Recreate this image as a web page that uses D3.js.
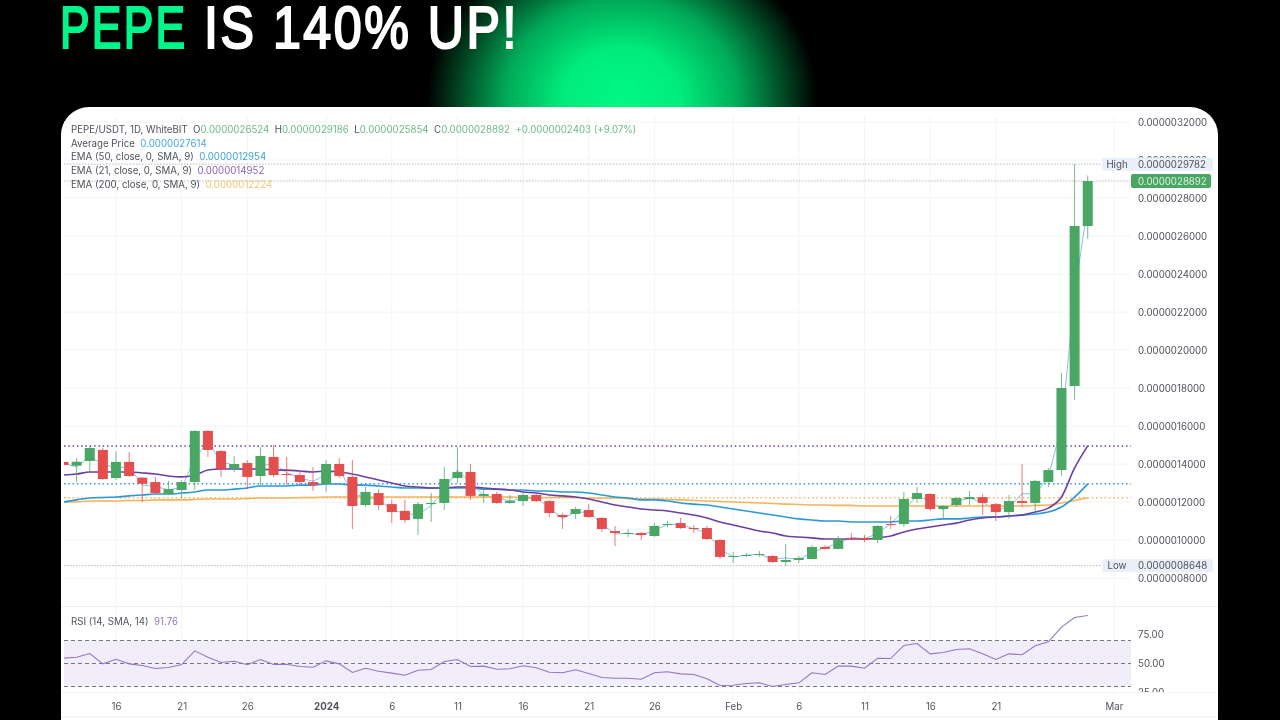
<!DOCTYPE html>
<html>
<head>
<meta charset="utf-8">
<script src="https://cdn.jsdelivr.net/npm/d3@7"></script>
<style>
  html, body { margin: 0; background: #000; overflow: hidden; }
  /* the reference is a soft screenshot */
  svg { display: block; filter: blur(0.4px); }
  text { font-family: Inter, "Noto Sans", sans-serif; }
</style>
</head>
<body>
<svg id="chart" width="1280" height="720"></svg>
<script>
// all prices are in units of 0.0000001, one entry per day from 12 Dec 2023
const PRICE_UNIT = 1e-7;
const FIRST_DAY = new Date(Date.UTC(2023, 11, 12));

const opens = [
  14.11,13.91,14.16,14.74,13.26,14.11,13.28,13.05,12.42,12.63,13.05,15.74,14.68,13.74,14.05,13.37,14.37,13.47,13.42,13.05,
  12.95,14.00,13.32,11.84,12.47,11.89,11.53,11.11,11.89,11.95,13.26,13.58,12.32,12.42,11.95,12.05,12.37,12.05,11.32,11.37,11.58,11.16,10.47,10.34,10.37,10.21,10.79,10.89,10.63,10.63,10.00,
  9.11,9.16,9.21,9.16,8.84,8.95,9.00,9.63,9.53,10.11,10.11,10.00,10.84,10.84,12.16,12.42,11.63,11.84,12.16,12.26,11.89,11.47,12.05,11.95,13.05,13.68,18.11,26.524
];
const highs = [
  14.15,14.32,14.95,14.84,14.68,14.63,13.32,13.32,13.11,13.16,15.79,15.79,14.74,14.42,14.21,14.89,15.00,14.37,13.60,13.84,
  14.21,14.32,14.21,12.79,12.68,12.11,12.11,12.00,12.47,13.84,14.89,14.00,12.74,12.55,12.37,12.47,12.47,12.11,11.42,11.74,11.89,11.21,10.74,10.58,10.42,10.89,11.00,11.16,10.79,10.74,10.05,
  9.37,9.32,9.42,9.21,9.79,9.16,9.74,9.74,10.21,10.37,10.26,10.79,11.26,12.53,12.79,12.47,11.84,12.26,12.58,12.42,11.95,12.37,14.00,13.16,13.79,18.79,29.782,29.186
];
const lows = [
  13.90,13.05,13.63,13.16,13.16,13.32,12.00,12.42,12.37,12.21,12.63,14.37,13.32,13.58,12.68,12.89,13.32,12.89,12.95,12.58,
  12.53,13.26,10.58,11.74,11.58,10.89,10.89,10.26,10.95,11.58,13.00,12.11,11.95,11.90,11.89,11.79,12.00,11.21,10.58,11.11,11.16,10.42,9.68,10.16,10.00,10.16,10.68,10.58,10.37,10.00,9.00,
  8.79,9.11,9.11,8.79,8.648,8.79,9.00,9.50,9.53,10.00,9.89,9.84,10.58,10.68,11.95,11.53,11.11,11.74,11.84,11.32,11.00,11.11,11.74,11.47,12.79,13.37,17.37,25.854
];
const closes = [
  13.95,14.12,14.84,13.21,14.11,13.37,12.96,12.47,12.68,13.05,15.74,14.74,13.74,14.00,13.32,14.42,13.42,13.42,13.05,12.89,
  14.00,13.37,11.79,12.53,11.84,11.47,11.05,11.89,11.95,13.21,13.58,12.32,12.42,11.95,12.05,12.37,12.05,11.42,11.21,11.63,11.21,10.58,10.37,10.37,10.26,10.74,10.84,10.63,10.58,10.05,9.11,
  9.16,9.21,9.26,8.84,8.95,9.05,9.63,9.53,10.05,10.05,10.00,10.74,10.79,12.16,12.47,11.63,11.79,12.21,12.26,11.95,11.47,12.05,11.95,13.11,13.68,18.00,26.524,28.892
];

const ema21 = [
  13.42,13.47,13.58,13.58,13.58,13.58,13.53,13.47,13.37,13.32,13.42,13.68,13.74,13.74,13.74,13.74,13.68,13.68,13.63,13.58,
  13.63,13.58,13.47,13.32,13.16,13.00,12.84,12.79,12.74,12.74,12.79,12.79,12.74,12.68,12.63,12.53,12.47,12.37,12.32,12.26,12.16,12.00,11.84,11.74,11.63,11.58,11.53,11.42,11.32,11.16,10.95,
  10.79,10.63,10.47,10.37,10.21,10.16,10.11,10.05,10.05,10.05,10.05,10.11,10.21,10.42,10.58,10.68,10.79,10.89,11.05,11.16,11.21,11.26,11.32,11.47,11.68,12.26,13.79,14.952
];
const ema50 = [
  12.00,12.11,12.21,12.24,12.26,12.32,12.37,12.42,12.42,12.47,12.53,12.63,12.63,12.68,12.74,12.84,12.84,12.84,12.89,12.89,
  12.95,12.95,12.89,12.89,12.84,12.79,12.74,12.74,12.74,12.74,12.74,12.74,12.68,12.68,12.63,12.63,12.58,12.58,12.53,12.53,12.47,12.37,12.26,12.21,12.11,12.11,12.05,11.95,11.89,11.84,11.74,
  11.63,11.53,11.42,11.32,11.21,11.11,11.05,11.00,11.00,10.95,10.95,10.95,10.95,11.00,11.00,11.05,11.11,11.11,11.16,11.21,11.21,11.26,11.32,11.37,11.47,11.74,12.26,12.954
];
const ema200 = [
  12.00,12.00,12.05,12.05,12.05,12.08,12.08,12.11,12.11,12.11,12.13,12.16,12.16,12.16,12.18,12.21,12.21,12.21,12.24,12.24,
  12.26,12.26,12.26,12.26,12.26,12.26,12.26,12.26,12.26,12.26,12.26,12.26,12.26,12.26,12.26,12.24,12.24,12.24,12.24,12.24,12.21,12.21,12.21,12.18,12.16,12.16,12.13,12.11,12.08,12.05,12.03,
  12.00,11.97,11.95,11.92,11.89,11.87,11.84,11.84,11.82,11.82,11.79,11.79,11.79,11.79,11.79,11.79,11.79,11.79,11.79,11.79,11.79,11.79,11.79,11.82,11.84,11.95,12.08,12.224
];
const rsi = [
  54.6,55.5,58.7,49.7,53.7,49.7,48.3,45.7,46.5,49.1,61.0,55.5,50.9,52.0,48.9,53.5,49.1,49.4,47.4,46.8,
  52.3,49.7,42.2,45.9,43.3,41.6,39.8,44.2,44.8,51.7,53.5,47.4,47.7,45.0,45.4,48.0,46.3,42.4,41.9,44.5,41.3,37.8,37.2,37.2,36.3,41.9,42.8,41.0,40.4,36.7,30.9,
  31.1,32.6,33.2,30.0,31.7,33.2,41.9,40.4,47.7,47.7,45.9,54.6,54.3,65.7,67.4,58.4,59.6,62.2,62.8,58.4,53.5,58.4,57.6,65.4,68.9,81.6,90.0,91.76
];

const priceTicks = [32, 30, 28, 26, 24, 22, 20, 18, 16, 14, 12, 10, 8];
const rsiTicks = [75, 50, 25];
const rsiBands = [70, 50, 30];
const timeTicks = [
  [2023, 11, 16, '16'], [2023, 11, 21, '21'], [2023, 11, 26, '26'], [2024, 0, 1, '2024'],
  [2024, 0, 6, '6'], [2024, 0, 11, '11'], [2024, 0, 16, '16'], [2024, 0, 21, '21'], [2024, 0, 26, '26'],
  [2024, 1, 1, 'Feb'], [2024, 1, 6, '6'], [2024, 1, 11, '11'], [2024, 1, 16, '16'], [2024, 1, 21, '21'],
  [2024, 2, 1, 'Mar']
];
const timeTickDates = timeTicks.map(t => new Date(Date.UTC(t[0], t[1], t[2])));
const timeTickLabels = timeTicks.map(t => t[3]);

const LAST_HIGH = 29.782;
const LAST_LOW = 8.648;
const LAST_CLOSE = 28.892;

const UP = '#4aa663';
const DOWN = '#e44f4e';
const BLUE = '#2b98d8';
const PURPLE = '#6b3fa6';
const ORANGE = '#f4b45a';
const AVG = '#86c3e2';
const TEXT = '#50535e';
const FONT_SIZE = '9.7px';

const plot = { left: 64, right: 1131, top: 108, bottom: 606, rsiTop: 607, rsiBottom: 692 };

const svg = d3.select('#chart');
const defs = svg.append('defs');

const days = closes.map((c, i) => d3.utcDay.offset(FIRST_DAY, i));
const fmtPrice = v => (v * PRICE_UNIT).toFixed(10);

const x = d3.scaleUtc()
  .domain([new Date(Date.UTC(2023, 11, 16)), new Date(Date.UTC(2024, 2, 1))])
  .range([116, 1114]);
const y = d3.scaleLinear().domain([8, 32]).range([578, 122]);
const yRsi = d3.scaleLinear().domain([30, 70]).range([686.5, 640.5]);

// glow behind the card
const glow = defs.append('radialGradient')
  .attr('id', 'glow')
  .attr('gradientUnits', 'userSpaceOnUse')
  .attr('cx', 0).attr('cy', 0).attr('r', 1)
  .attr('gradientTransform', 'translate(622,98) scale(195,165)');
[[0, '#00f883'], [0.3, '#00ec7c'], [0.6, '#00a957'], [0.85, '#00401f'], [1, '#000']].forEach(s => {
  glow.append('stop').attr('offset', s[0]).attr('stop-color', s[1]);
});
svg.append('rect').attr('width', 1280).attr('height', 720).attr('fill', '#000');
svg.append('rect').attr('x', 400).attr('y', 0).attr('width', 450).attr('height', 110).attr('fill', 'url(#glow)');

// title, squeezed sideways since no installed font is this narrow
function titleText(str, left, squeeze, color) {
  svg.append('text').attr('transform', `translate(${left},48) scale(${squeeze},1)`)
    .style('font-family', '"Liberation Sans", sans-serif')
    .style('font-size', '60px').style('font-weight', 400).style('letter-spacing', '3px')
    .attr('fill', color).attr('stroke', color).attr('stroke-width', 2.2).text(str);
}
titleText('PEPE', 60, 0.74, '#00f58a');
titleText('IS 140% UP!', 204, 0.837, '#fff');

// card
svg.append('rect').attr('x', 61).attr('y', 107).attr('width', 1157).attr('height', 640).attr('rx', 28).attr('fill', '#fff');

defs.append('clipPath').attr('id', 'mainClip').append('rect')
  .attr('x', plot.left).attr('y', plot.top).attr('width', plot.right - plot.left).attr('height', plot.bottom - plot.top);
defs.append('clipPath').attr('id', 'rsiClip').append('rect')
  .attr('x', plot.left).attr('y', plot.rsiTop).attr('width', plot.right - plot.left).attr('height', plot.rsiBottom - plot.rsiTop);

// grid
const grid = svg.append('g').attr('stroke', '#f3f4f6').attr('stroke-width', 1);
grid.selectAll('.v').data(timeTickDates).join('line').attr('class', 'v')
  .attr('x1', d => x(d)).attr('x2', d => x(d)).attr('y1', plot.top + 8).attr('y2', plot.rsiBottom);
grid.selectAll('.h').data(priceTicks).join('line').attr('class', 'h')
  .attr('x1', plot.left).attr('x2', plot.right).attr('y1', d => y(d)).attr('y2', d => y(d));
svg.append('line').attr('x1', 61).attr('x2', 1218).attr('y1', 606.5).attr('y2', 606.5).attr('stroke', '#eceef1');
svg.append('line').attr('x1', 61).attr('x2', 1218).attr('y1', 692.5).attr('y2', 692.5).attr('stroke', '#f3f4f6');
svg.append('line').attr('x1', 61).attr('x2', 1218).attr('y1', 717).attr('y2', 717).attr('stroke', '#eceef1');

const main = svg.append('g').attr('clip-path', 'url(#mainClip)');

// high, low, close and last EMA price lines
[LAST_HIGH, LAST_CLOSE, LAST_LOW].forEach(v => {
  main.append('line').attr('x1', plot.left).attr('x2', plot.right).attr('y1', y(v)).attr('y2', y(v))
    .attr('stroke', '#b5b8bd').attr('stroke-dasharray', '1.5,1.5');
});
[[ema21, PURPLE], [ema50, BLUE], [ema200, ORANGE]].forEach(d => {
  const last = d[0][d[0].length - 1];
  main.append('line').attr('x1', plot.left).attr('x2', plot.right).attr('y1', y(last)).attr('y2', y(last))
    .attr('stroke', d[1]).attr('stroke-width', 1.5).attr('stroke-dasharray', '1.5,2.8');
});

const priceLine = d3.line().x((d, i) => x(days[i])).y(d => y(d)).curve(d3.curveMonotoneX);

// the Average Price indicator is (O+H+L+C)/4 of each candle
const avgPrice = closes.map((c, i) => (opens[i] + highs[i] + lows[i] + c) / 4);
main.append('path').datum(avgPrice).attr('d', d3.line().x((d, i) => x(days[i])).y(d => y(d)))
  .attr('fill', 'none').attr('stroke', AVG).attr('stroke-width', 1);

[[ema200, ORANGE], [ema50, BLUE], [ema21, PURPLE]].forEach(d => {
  main.append('path').datum(d[0]).attr('d', priceLine)
    .attr('fill', 'none').attr('stroke', d[1]).attr('stroke-width', 1.6);
});

// candles
const candle = main.selectAll('.candle').data(closes).join('g').attr('class', 'candle');
const candleColor = (c, i) => (c >= opens[i] ? UP : DOWN);
candle.append('line')
  .attr('x1', (c, i) => x(days[i])).attr('x2', (c, i) => x(days[i]))
  .attr('y1', (c, i) => y(highs[i])).attr('y2', (c, i) => y(lows[i]))
  .attr('stroke', candleColor).attr('stroke-opacity', 0.75).attr('stroke-width', 1);
candle.append('rect')
  .attr('x', (c, i) => x(days[i]) - 5).attr('width', 10)
  .attr('y', (c, i) => y(Math.max(opens[i], c)))
  .attr('height', (c, i) => Math.max(1, Math.abs(y(opens[i]) - y(c))))
  .attr('fill', candleColor);

// RSI pane
const rsiPane = svg.append('g').attr('clip-path', 'url(#rsiClip)');
rsiPane.append('rect')
  .attr('x', plot.left).attr('width', plot.right - plot.left)
  .attr('y', yRsi(70)).attr('height', yRsi(30) - yRsi(70))
  .attr('fill', '#f1edfb');
rsiPane.selectAll('.band').data(rsiBands).join('line').attr('class', 'band')
  .attr('x1', plot.left).attr('x2', plot.right).attr('y1', d => yRsi(d)).attr('y2', d => yRsi(d))
  .attr('stroke', '#77787e').attr('stroke-dasharray', '4,3');
rsiPane.append('path').datum(rsi)
  .attr('d', d3.line().x((d, i) => x(days[i])).y(d => yRsi(d)))
  .attr('fill', 'none').attr('stroke', '#9377c4').attr('stroke-width', 1.1);

// price axis
const priceAxis = svg.append('g').attr('transform', 'translate(1131,0)')
  .call(d3.axisRight(y).tickValues(priceTicks).tickSize(0).tickPadding(7).tickFormat(fmtPrice));
priceAxis.select('.domain').remove();
priceAxis.selectAll('text').attr('fill', TEXT).style('font-size', FONT_SIZE);

// RSI axis, cut off at the bottom of the pane like the original
defs.append('clipPath').attr('id', 'rsiAxisClip').append('rect')
  .attr('x', 1131).attr('y', plot.rsiTop).attr('width', 87).attr('height', plot.rsiBottom - plot.rsiTop);
const rsiAxis = svg.append('g').attr('clip-path', 'url(#rsiAxisClip)').append('g')
  .attr('transform', 'translate(1131,0)')
  .call(d3.axisRight(yRsi).tickValues(rsiTicks).tickSize(0).tickPadding(7).tickFormat(d => d.toFixed(2)));
rsiAxis.select('.domain').remove();
rsiAxis.selectAll('text').attr('fill', TEXT).style('font-size', FONT_SIZE);

// time axis
const timeAxis = svg.append('g').attr('transform', 'translate(0,692)')
  .call(d3.axisBottom(x).tickValues(timeTickDates).tickSize(0).tickPadding(11).tickFormat((d, i) => timeTickLabels[i]));
timeAxis.select('.domain').remove();
timeAxis.selectAll('text').attr('fill', TEXT).style('font-size', FONT_SIZE)
  .style('font-weight', (d, i) => (timeTickLabels[i] === '2024' ? 700 : 400));

// price tags on the axis
function priceTag(value, tag, bg, color) {
  const cy = y(value);
  if (tag) {
    svg.append('rect').attr('x', 1102).attr('y', cy - 6.5).attr('width', 111).attr('height', 13).attr('rx', 2).attr('fill', bg);
    svg.append('text').attr('x', 1117).attr('y', cy + 3.5).attr('text-anchor', 'middle')
      .attr('fill', TEXT).style('font-size', FONT_SIZE).text(tag);
  } else {
    svg.append('rect').attr('x', 1131).attr('y', cy - 7).attr('width', 80).attr('height', 14).attr('rx', 2).attr('fill', bg);
  }
  svg.append('text').attr('x', 1138).attr('y', cy + 3.5)
    .attr('fill', color).style('font-size', FONT_SIZE).text(fmtPrice(value));
}
priceTag(LAST_HIGH, 'High', '#e9f0fa', TEXT);
priceTag(LAST_CLOSE, null, UP, '#d9f0df');
priceTag(LAST_LOW, 'Low', '#e9f0fa', TEXT);

// legend
const legendValue = '#6dba88';
const header = svg.append('text').attr('x', 71).attr('y', 133).style('font-size', FONT_SIZE).attr('fill', TEXT).style('white-space', 'pre');
header.append('tspan').text('PEPE/USDT, 1D, WhiteBIT  O');
header.append('tspan').attr('fill', legendValue).text(fmtPrice(opens[opens.length - 1]));
header.append('tspan').text('  H');
header.append('tspan').attr('fill', legendValue).text(fmtPrice(highs[highs.length - 1]));
header.append('tspan').text('  L');
header.append('tspan').attr('fill', legendValue).text(fmtPrice(lows[lows.length - 1]));
header.append('tspan').text('  C');
header.append('tspan').attr('fill', legendValue).text(fmtPrice(LAST_CLOSE));
header.append('tspan').attr('fill', legendValue).text('  +0.0000002403 (+9.07%)');

const legendRows = [
  ['Average Price', avgPrice[avgPrice.length - 1], '#4ba6dc', 147],
  ['EMA (50, close, 0, SMA, 9)', ema50[ema50.length - 1], '#3ea3d8', 160],
  ['EMA (21, close, 0, SMA, 9)', ema21[ema21.length - 1], '#8a63bb', 174],
  ['EMA (200, close, 0, SMA, 9)', ema200[ema200.length - 1], '#f3c678', 188]
];
legendRows.forEach(r => {
  const row = svg.append('text').attr('x', 71).attr('y', r[3]).style('font-size', FONT_SIZE).attr('fill', TEXT).style('white-space', 'pre');
  row.append('tspan').text(r[0] + '  ');
  row.append('tspan').attr('fill', r[2]).text(fmtPrice(r[1]));
});

const rsiLabel = svg.append('text').attr('x', 71).attr('y', 625).style('font-size', FONT_SIZE).attr('fill', TEXT).style('white-space', 'pre');
rsiLabel.append('tspan').text('RSI (14, SMA, 14)  ');
rsiLabel.append('tspan').attr('fill', '#9377c4').text(rsi[rsi.length - 1].toFixed(2));
</script>
</body>
</html>
